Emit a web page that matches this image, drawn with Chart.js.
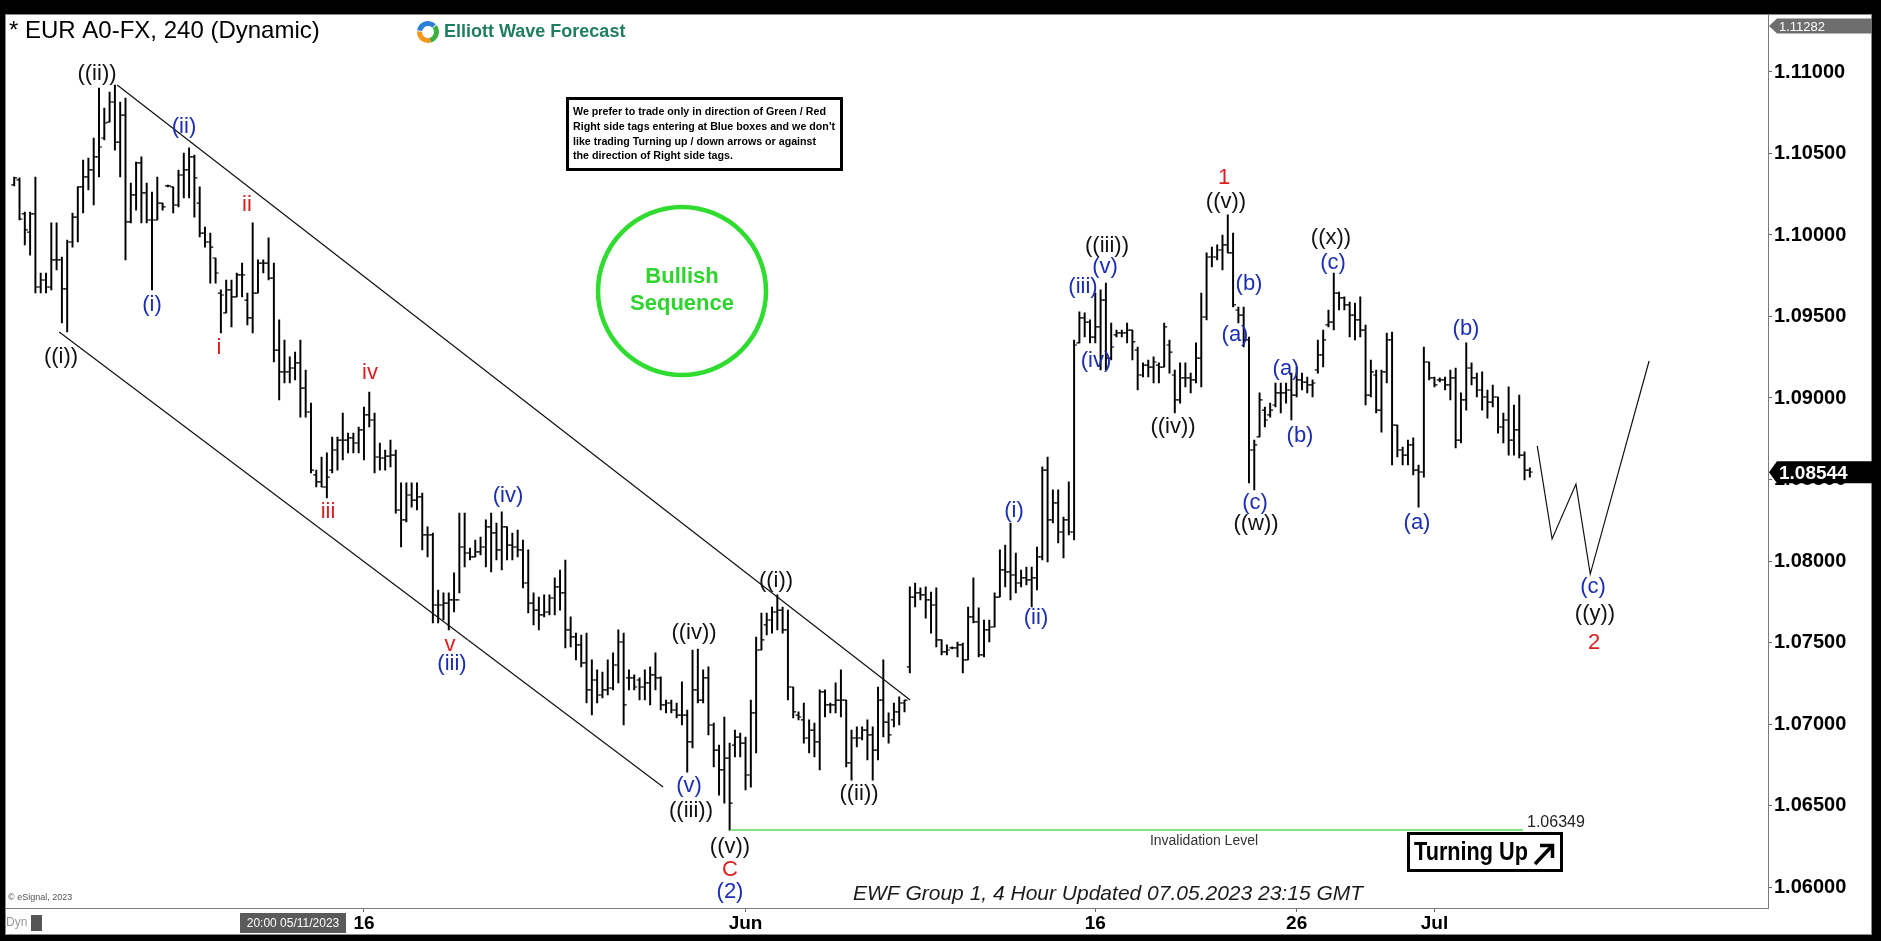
<!DOCTYPE html>
<html><head><meta charset="utf-8">
<script src="https://cdn.jsdelivr.net/npm/chart.js@4.4.1/dist/chart.umd.min.js"></script>
<style>html,body{margin:0;padding:0;background:#000;overflow:hidden}canvas{display:block}</style>
</head><body>
<canvas id="c" width="1881" height="941" style="width:1881px;height:941px"></canvas>
<script>
// ---- data (EUR 4-hour bars) ----
const opens = [
1.10307,1.10338,1.10129,1.10018,1.10129,1.09681,1.09724,1.09681,1.09847,1.09847,
1.09669,1.09957,1.10110,1.10295,1.10356,1.10399,1.10479,1.10595,1.10693,1.10816,
1.10570,1.10736,1.10080,1.10246,1.10442,1.10258,1.10092,1.10092,1.10196,1.10301,
1.10295,1.10184,1.10368,1.10399,1.10479,1.10196,1.10012,1.09957,1.09859,1.09644,
1.09522,1.09663,1.09620,1.09755,1.09601,1.09491,1.09644,1.09828,1.09828,1.09736,
1.09294,1.09160,1.09160,1.09184,1.09215,1.09061,1.08914,1.08528,1.08485,1.08454,
1.08558,1.08681,1.08742,1.08742,1.08755,1.08724,1.08804,1.08896,1.08865,1.08638,
1.08632,1.08644,1.08650,1.08313,1.08252,1.08405,1.08374,1.08393,1.08160,1.08160,
1.07730,1.07730,1.07742,1.07761,1.07761,1.08086,1.08049,1.08025,1.08056,1.08086,
1.08209,1.08172,1.08068,1.08209,1.08098,1.08086,1.08068,1.07865,1.07742,1.07699,
1.07669,1.07687,1.07773,1.07841,1.07804,1.07577,1.07534,1.07485,1.07375,1.07209,
1.07270,1.07178,1.07209,1.07221,1.07362,1.07503,1.07283,1.07283,1.07270,1.07227,
1.07252,1.07301,1.07283,1.07117,1.07129,1.07086,1.07055,1.07055,1.06890,1.07209,
1.07147,1.07283,1.06994,1.06840,1.06718,1.06791,1.06871,1.06920,1.06883,1.06687,
1.07068,1.07454,1.07608,1.07638,1.07687,1.07699,1.07577,1.07227,1.07055,1.07025,
1.06914,1.06963,1.06890,1.07197,1.07117,1.07117,1.07147,1.07147,1.06761,1.06914,
1.06914,1.06963,1.06933,1.06840,1.07147,1.07012,1.07025,1.07074,1.07129,1.07350,
1.07779,1.07804,1.07792,1.07761,1.07730,1.07516,1.07442,1.07467,1.07467,1.07485,
1.07393,1.07657,1.07626,1.07424,1.07577,1.07595,1.07779,1.07945,1.07933,1.07914,
1.07865,1.07896,1.07884,1.07896,1.08025,1.08558,1.08252,1.08356,1.08178,1.08252,
1.08178,1.09338,1.09491,1.09466,1.09374,1.09436,1.09601,1.09245,1.09387,1.09399,
1.09399,1.09417,1.09294,1.09141,1.09202,1.09190,1.09202,1.09190,1.09325,1.09141,
1.08988,1.09123,1.09123,1.09111,1.09245,1.09497,1.09865,1.09865,1.09908,1.09939,
1.09890,1.09540,1.09509,1.09356,1.08681,1.08761,1.08926,1.08896,1.08957,1.09031,
1.09031,1.09049,1.09018,1.09111,1.09098,1.09080,1.09172,1.09264,1.09448,1.09466,
1.09644,1.09614,1.09571,1.09509,1.09479,1.09417,1.09018,1.09141,1.08926,1.09160,
1.09356,1.08834,1.08681,1.08650,1.08712,1.08558,1.08546,1.09221,1.09123,1.09111,
1.09111,1.09080,1.09123,1.08742,1.08988,1.09184,1.09123,1.09049,1.09006,1.08975,
1.09006,1.08822,1.08865,1.08742,1.08804,1.08650,1.08558];
const highs = [
1.10356,1.10350,1.10141,1.10141,1.10356,1.09767,1.09767,1.10074,1.10074,1.09865,
1.09969,1.10135,1.10295,1.10460,1.10472,1.10595,1.10902,1.10779,1.10877,1.10920,
1.10816,1.10840,1.10319,1.10448,1.10479,1.10319,1.10264,1.10356,1.10196,1.10307,
1.10295,1.10399,1.10503,1.10534,1.10491,1.10295,1.10049,1.10012,1.09859,1.09663,
1.09724,1.09724,1.09767,1.09828,1.09644,1.10074,1.09847,1.09847,1.09982,1.09828,
1.09479,1.09356,1.09252,1.09282,1.09356,1.09172,1.08969,1.08558,1.08638,1.08663,
1.08761,1.08761,1.08908,1.08785,1.08785,1.08822,1.08945,1.09037,1.08908,1.08724,
1.08681,1.08742,1.08681,1.08479,1.08479,1.08479,1.08479,1.08417,1.08209,1.08172,
1.07822,1.07804,1.07804,1.07927,1.08294,1.08294,1.08080,1.08129,1.08147,1.08252,
1.08294,1.08233,1.08301,1.08209,1.08172,1.08190,1.08129,1.08068,1.07804,1.07779,
1.07792,1.07792,1.07896,1.07945,1.08006,1.07657,1.07558,1.07546,1.07558,1.07393,
1.07332,1.07319,1.07393,1.07436,1.07577,1.07558,1.07332,1.07301,1.07283,1.07332,
1.07350,1.07436,1.07289,1.07147,1.07147,1.07129,1.07258,1.07086,1.07454,1.07460,
1.07332,1.07350,1.07006,1.06871,1.07043,1.06883,1.06963,1.06945,1.06920,1.07147,
1.07534,1.07681,1.07681,1.07718,1.07792,1.07718,1.07699,1.07227,1.07074,1.07129,
1.07025,1.07006,1.07209,1.07209,1.07129,1.07252,1.07332,1.07147,1.06963,1.06982,
1.06982,1.07025,1.06982,1.07227,1.07393,1.07068,1.07129,1.07166,1.07147,1.07841,
1.07865,1.07835,1.07841,1.07810,1.07835,1.07516,1.07485,1.07473,1.07503,1.07497,
1.07718,1.07896,1.07712,1.07638,1.07638,1.07804,1.08068,1.08098,1.08233,1.08049,
1.07945,1.07963,1.07963,1.08086,1.08577,1.08638,1.08436,1.08436,1.08270,1.08485,
1.09356,1.09528,1.09522,1.09479,1.09644,1.09663,1.09705,1.09460,1.09417,1.09417,
1.09460,1.09417,1.09313,1.09215,1.09233,1.09252,1.09215,1.09460,1.09356,1.09172,
1.09215,1.09215,1.09153,1.09338,1.09644,1.09890,1.09926,1.09939,1.10000,1.10123,
1.10012,1.09558,1.09558,1.09374,1.08742,1.09031,1.08945,1.08969,1.09092,1.09092,
1.09092,1.09153,1.09190,1.09153,1.09129,1.09111,1.09356,1.09417,1.09540,1.09767,
1.09650,1.09620,1.09589,1.09583,1.09620,1.09448,1.09233,1.09172,1.09172,1.09399,
1.09405,1.08834,1.08699,1.08742,1.08755,1.08589,1.09313,1.09221,1.09129,1.09123,
1.09129,1.09172,1.09184,1.09031,1.09338,1.09215,1.09153,1.09160,1.09049,1.09080,
1.09006,1.08908,1.09068,1.08957,1.09018,1.08669,1.08571];
const lows = [
1.10301,1.10092,1.09939,1.09877,1.09644,1.09644,1.09644,1.09663,1.09785,1.09460,
1.09405,1.09926,1.09957,1.10135,1.10276,1.10184,1.10356,1.10583,1.10693,1.10521,
1.10356,1.09847,1.10074,1.10153,1.10074,1.10074,1.09663,1.10092,1.10153,1.10295,
1.10135,1.10172,1.10227,1.10227,1.10110,1.09988,1.09926,1.09705,1.09705,1.09399,
1.09522,1.09436,1.09620,1.09620,1.09448,1.09399,1.09644,1.09767,1.09724,1.09221,
1.08988,1.09092,1.09092,1.09111,1.08883,1.08883,1.08540,1.08454,1.08454,1.08387,
1.08540,1.08558,1.08620,1.08663,1.08663,1.08663,1.08620,1.08822,1.08540,1.08558,
1.08558,1.08577,1.08294,1.08086,1.08239,1.08331,1.08313,1.08068,1.08025,1.07620,
1.07620,1.07638,1.07577,1.07687,1.07804,1.07963,1.08006,1.08025,1.08037,1.07963,
1.07933,1.08006,1.07945,1.08006,1.08006,1.08025,1.07835,1.07681,1.07608,1.07577,
1.07657,1.07669,1.07669,1.07699,1.07467,1.07473,1.07393,1.07350,1.07129,1.07055,
1.07129,1.07160,1.07178,1.07209,1.07252,1.06994,1.07209,1.07209,1.07147,1.07147,
1.07117,1.07209,1.07086,1.07068,1.07068,1.07037,1.06994,1.06705,1.06853,1.07129,
1.07129,1.06933,1.06736,1.06564,1.06515,1.06349,1.06798,1.06798,1.06595,1.06613,
1.06822,1.07454,1.07546,1.07558,1.07577,1.07558,1.07147,1.07037,1.07025,1.06883,
1.06822,1.06798,1.06718,1.07043,1.07068,1.07068,1.07043,1.06736,1.06656,1.06859,
1.06902,1.06779,1.06656,1.06779,1.06920,1.06883,1.06982,1.06994,1.07074,1.07313,
1.07718,1.07761,1.07650,1.07558,1.07473,1.07424,1.07424,1.07460,1.07411,1.07313,
1.07393,1.07620,1.07411,1.07411,1.07503,1.07595,1.07779,1.07841,1.07761,1.07804,
1.07841,1.07853,1.07718,1.07822,1.08006,1.07994,1.08233,1.08111,1.08019,1.08160,
1.08129,1.09338,1.09374,1.09338,1.09338,1.09172,1.09172,1.09233,1.09374,1.09374,
1.09338,1.09233,1.09049,1.09129,1.09129,1.09092,1.09092,1.09190,1.09153,1.08908,
1.08969,1.09068,1.09031,1.09092,1.09068,1.09479,1.09804,1.09847,1.09785,1.09890,
1.09558,1.09460,1.09313,1.08479,1.08436,1.08761,1.08822,1.08883,1.08945,1.08908,
1.08969,1.08865,1.09006,1.09049,1.09031,1.09006,1.09153,1.09190,1.09436,1.09417,
1.09540,1.09540,1.09374,1.09356,1.09374,1.08957,1.09006,1.08908,1.08791,1.09092,
1.08589,1.08638,1.08589,1.08589,1.08528,1.08331,1.08515,1.09111,1.09068,1.09098,
1.09049,1.08988,1.08693,1.08724,1.08926,1.09080,1.09006,1.08926,1.08877,1.08945,
1.08785,1.08724,1.08650,1.08650,1.08632,1.08497,1.08515];
const closes = [
1.10350,1.10098,1.10031,1.10129,1.09681,1.09724,1.09681,1.09847,1.09847,1.09669,
1.09957,1.10110,1.10295,1.10356,1.10399,1.10479,1.10540,1.10687,1.10816,1.10570,
1.10736,1.10080,1.10246,1.10442,1.10258,1.10092,1.10092,1.10196,1.10172,1.10301,
1.10184,1.10368,1.10399,1.10479,1.10350,1.10012,1.09957,1.09926,1.09767,1.09632,
1.09663,1.09620,1.09755,1.09755,1.09491,1.09644,1.09828,1.09828,1.09736,1.09294,
1.09160,1.09160,1.09184,1.09215,1.09061,1.08914,1.08558,1.08485,1.08454,1.08515,
1.08681,1.08742,1.08742,1.08755,1.08724,1.08804,1.08896,1.08865,1.08638,1.08632,
1.08644,1.08650,1.08313,1.08252,1.08405,1.08374,1.08393,1.08160,1.08160,1.07730,
1.07730,1.07742,1.07761,1.07761,1.08086,1.08049,1.08025,1.08056,1.08086,1.08209,
1.08172,1.08068,1.08209,1.08098,1.08086,1.08068,1.07865,1.07742,1.07699,1.07669,
1.07687,1.07773,1.07841,1.07804,1.07577,1.07534,1.07485,1.07375,1.07209,1.07270,
1.07178,1.07209,1.07221,1.07362,1.07503,1.07117,1.07283,1.07227,1.07227,1.07252,
1.07301,1.07283,1.07117,1.07129,1.07086,1.07055,1.07055,1.06890,1.07209,1.07147,
1.07283,1.06994,1.06840,1.06718,1.06791,1.06515,1.06920,1.06883,1.06687,1.07068,
1.07454,1.07516,1.07638,1.07687,1.07699,1.07577,1.07227,1.07074,1.07043,1.06914,
1.06963,1.06890,1.07197,1.07117,1.07117,1.07147,1.07147,1.06761,1.06914,1.06914,
1.06963,1.06933,1.06840,1.07147,1.07012,1.06933,1.07074,1.07129,1.07147,1.07779,
1.07804,1.07792,1.07761,1.07730,1.07516,1.07442,1.07454,1.07467,1.07485,1.07393,
1.07657,1.07626,1.07424,1.07577,1.07595,1.07779,1.07945,1.07933,1.07914,1.07865,
1.07896,1.07884,1.07896,1.08025,1.08558,1.08252,1.08356,1.08178,1.08252,1.08178,
1.09325,1.09491,1.09466,1.09374,1.09436,1.09601,1.09245,1.09313,1.09399,1.09399,
1.09417,1.09344,1.09141,1.09202,1.09190,1.09221,1.09190,1.09436,1.09282,1.08988,
1.09123,1.09123,1.09111,1.09245,1.09497,1.09865,1.09865,1.09908,1.09939,1.09890,
1.09571,1.09509,1.09356,1.08681,1.08712,1.08988,1.08865,1.08926,1.09031,1.09031,
1.09049,1.09018,1.09111,1.09098,1.09080,1.09092,1.09264,1.09356,1.09466,1.09644,
1.09614,1.09571,1.09509,1.09479,1.09417,1.09018,1.09160,1.08926,1.09160,1.09356,
1.08834,1.08681,1.08650,1.08712,1.08558,1.08546,1.09221,1.09123,1.09080,1.09111,
1.09080,1.09123,1.08742,1.08988,1.09184,1.09123,1.09049,1.09006,1.08975,1.09006,
1.08822,1.08865,1.08742,1.08804,1.08650,1.08558,1.08546];

// axis ticks
const xTickIdx  = [66, 138, 204, 242, 268];
const xTickText = ['16', 'Jun', '16', '26', 'Jul'];
const yTicks = [1.060, 1.065, 1.070, 1.075, 1.080, 1.085, 1.090, 1.095, 1.100, 1.105, 1.110];

// reference prices
const lastPrice = 1.08544;
const topPrice = 1.11282;
const invalidationPrice = 1.06349;

// drawn lines (bar index, price)
const upperChannel = [{x:19.43, y:1.10920}, {x:169.06, y:1.07147}];
const lowerChannel = [{x:8.49, y:1.09405}, {x:122.45, y:1.06613}];
const invalidationLine = [{x:135.1, y:invalidationPrice}, {x:284.7, y:invalidationPrice}];
const projection = [{x:287.4, y:1.08706}, {x:290.2, y:1.08135}, {x:294.7, y:1.08472}, {x:297.4, y:1.07920}, {x:308.5, y:1.09227}];

// wave labels (text, colour key, pixel centre)
const waveLabels = [
 ['((ii))','k',97,74],['((i))','k',61,357],['((iv))','k',694,633],['((iii))','k',691,811],['((v))','k',730,847],
 ['((i))','k',776,581],['((ii))','k',859,794],['((iii))','k',1107,246],['((iv))','k',1173,427],['((v))','k',1226,202],
 ['((w))','k',1256,524],['((x))','k',1331,238],['((y))','k',1595,614],
 ['(ii)','b',184,127],['(i)','b',152,305],['(iii)','b',452,664],['(iv)','b',508,496],['(v)','b',689,786],['(2)','b',730,892],
 ['(i)','b',1014,511],['(ii)','b',1036,618],['(iii)','b',1083,287],['(v)','b',1105,267],['(iv)','b',1096,361],
 ['(b)','b',1249,284],['(a)','b',1235,335],['(c)','b',1255,503],['(a)','b',1286,369],['(b)','b',1300,436],['(c)','b',1333,263],
 ['(b)','b',1466,329],['(a)','b',1417,523],['(c)','b',1593,587],
 ['ii','r',247,205],['i','r',219,348],['iv','r',370,373],['iii','r',328,512],['v','r',450,645],['C','r',730,870],['1','r',1224,178],['2','r',1594,643]
];

const F = "'Liberation Sans', Arial, sans-serif";
const COL = {k:'#111111', b:'#1b2db3', r:'#dc1e1e'};

const barData = highs.map((h, i) => ({x: i, y: [lows[i], h]}));
const openTicks = opens.map((v, i) => ({x: i - 0.28, y: v}));
const closeTicks = closes.map((v, i) => ({x: i + 0.28, y: v}));

function tag(c, y, txt, bg, font, h) {
  const x0 = 1769, x1 = 1777, x2 = 1872;
  c.fillStyle = bg;
  c.beginPath(); c.moveTo(x0, y); c.lineTo(x1, y - h/2); c.lineTo(x2, y - h/2); c.lineTo(x2, y + h/2); c.lineTo(x1, y + h/2); c.closePath(); c.fill();
  c.fillStyle = '#fff'; c.font = font; c.textAlign = 'left'; c.textBaseline = 'middle';
  c.fillText(txt, 1779, y + 1);
}

const deco = {
  id: 'deco',
  beforeDraw(chart) {
    const c = chart.ctx;
    c.save();
    c.fillStyle = '#000'; c.fillRect(0, 0, chart.width, chart.height);
    c.fillStyle = '#fff'; c.fillRect(5, 14, 1867, 921);
    c.strokeStyle = '#8a8a8a'; c.lineWidth = 1; c.strokeRect(5.5, 14.5, 1866, 920);
    c.restore();
  },
  afterDraw(chart) {
    const c = chart.ctx, ys = chart.scales.y;
    c.save();
    // title
    c.fillStyle = '#000'; c.font = '24px ' + F; c.textAlign = 'left'; c.textBaseline = 'middle';
    c.fillText('* EUR A0-FX, 240 (Dynamic)', 9, 31);
    // logo
    c.lineWidth = 5;
    [['#2b7fd6', 3.3, 5.5], ['#3cb043', 5.6, 7.6], ['#f39a1e', 1.3, 3.2]].forEach(a => {
      c.strokeStyle = a[0]; c.beginPath(); c.arc(428, 32, 8.5, a[1], a[2]); c.stroke();
    });
    c.fillStyle = '#1f7f5c'; c.font = 'bold 18px ' + F; c.fillText('Elliott Wave Forecast', 444, 32);
    // info box
    c.fillStyle = '#fff'; c.fillRect(567, 98, 274, 71);
    c.strokeStyle = '#000'; c.lineWidth = 3; c.strokeRect(567.5, 98.5, 274, 71);
    c.fillStyle = '#000'; c.font = 'bold 11.5px ' + F;
    const lines = ['We prefer to trade only in direction of Green / Red', "Right side tags entering at Blue boxes and we don't",
                   'like trading Turning up / down arrows or against', 'the direction of Right side tags.'];
    const lw = [253, 262, 243, 160];
    lines.forEach((t, k) => c.fillText(t, 573, 112 + k * 14.7, lw[k]));
    // bullish circle
    c.strokeStyle = '#2fdc2f'; c.lineWidth = 4.5; c.beginPath(); c.arc(682, 291, 84, 0, Math.PI * 2); c.stroke();
    c.fillStyle = '#2fd42f'; c.font = 'bold 22px ' + F; c.textAlign = 'center';
    c.fillText('Bullish', 682, 277); c.fillText('Sequence', 682, 304);
    // wave labels
    c.font = '22px ' + F; c.textAlign = 'center'; c.textBaseline = 'middle';
    waveLabels.forEach(l => { c.fillStyle = COL[l[1]]; c.fillText(l[0], l[2], l[3]); });
    // invalidation texts
    const yi = ys.getPixelForValue(invalidationPrice);
    c.fillStyle = '#333'; c.font = '14px ' + F; c.fillText('Invalidation Level', 1204, yi + 11);
    c.fillStyle = '#222'; c.font = '16px ' + F; c.textAlign = 'left'; c.fillText(invalidationPrice.toFixed(5), 1527, yi - 8);
    // turning up box
    c.fillStyle = '#fff'; c.fillRect(1408, 833, 153, 37);
    c.strokeStyle = '#000'; c.lineWidth = 3; c.strokeRect(1408.5, 833.5, 153, 37);
    c.fillStyle = '#000'; c.font = 'bold 25px ' + F; c.textAlign = 'left';
    c.fillText('Turning Up', 1414, 853, 114);
    c.lineWidth = 3.5; c.beginPath(); c.moveTo(1535, 864); c.lineTo(1552, 846); c.stroke();
    c.beginPath(); c.moveTo(1540, 845.5); c.lineTo(1552.5, 845.5); c.lineTo(1552.5, 858); c.stroke();
    // footer texts
    c.fillStyle = '#1a1a1a'; c.font = 'italic 21px ' + F; c.textAlign = 'center';
    c.fillText('EWF Group 1, 4 Hour Updated 07.05.2023 23:15 GMT', 1108, 894, 536);
    c.fillStyle = '#555'; c.font = '9px ' + F; c.textAlign = 'left'; c.fillText('\u00A9 eSignal, 2023', 8, 898);
    c.fillStyle = '#999'; c.font = '12px ' + F; c.fillText('Dyn', 6, 923);
    c.fillStyle = '#555'; c.fillRect(31, 915, 11, 16);
    c.fillStyle = '#5a5a5a'; c.fillRect(240, 913, 106, 20);
    c.fillStyle = '#fff'; c.font = '12px ' + F; c.textAlign = 'center'; c.fillText('20:00 05/11/2023', 293, 923.5, 102);
    // price tags on the axis
    tag(c, ys.getPixelForValue(topPrice), topPrice.toFixed(5), '#6e6e6e', '13px ' + F, 15);
    tag(c, ys.getPixelForValue(lastPrice), lastPrice.toFixed(5), '#000', 'bold 19px ' + F, 22);
    c.restore();
  }
};

new Chart(document.getElementById('c'), {
  type: 'bar',
  data: {
    datasets: [
      {type: 'line', data: upperChannel, borderColor: '#111', borderWidth: 1.2, pointRadius: 0, fill: false},
      {type: 'line', data: lowerChannel, borderColor: '#111', borderWidth: 1.2, pointRadius: 0, fill: false},
      {type: 'line', data: invalidationLine, borderColor: '#5ad85a', borderWidth: 1.5, pointRadius: 0, fill: false},
      {type: 'line', data: projection, borderColor: '#111', borderWidth: 1.2, pointRadius: 0, fill: false, tension: 0},
      {type: 'scatter', data: openTicks, pointStyle: 'line', pointRadius: 1.5, pointBorderWidth: 1.2, pointBorderColor: '#000', pointBackgroundColor: '#000'},
      {type: 'scatter', data: closeTicks, pointStyle: 'line', pointRadius: 1.5, pointBorderWidth: 1.2, pointBorderColor: '#000', pointBackgroundColor: '#000'},
      {type: 'bar', data: barData, backgroundColor: '#000', borderWidth: 0, barThickness: 1.3}
    ]
  },
  options: {
    responsive: false, animation: false, devicePixelRatio: 1, events: [],
    layout: {padding: {left: 5, top: 14, right: 9, bottom: 6}},
    plugins: {legend: {display: false}, tooltip: {enabled: false}},
    scales: {
      x: {
        type: 'linear', min: -1.7, max: 330.94, position: 'bottom', offset: false,
        afterBuildTicks: s => { s.ticks = xTickIdx.map(v => ({value: v})); },
        afterFit: s => { s.height = 27; },
        ticks: {autoSkip: false, maxRotation: 0, padding: 0, color: '#000', font: {family: F, size: 19, weight: 'bold'},
                callback: v => { const k = xTickIdx.indexOf(v); return k >= 0 ? xTickText[k] : ''; }},
        grid: {offset: false, drawOnChartArea: false, drawTicks: true, tickLength: 4, color: '#666'},
        border: {display: true, color: '#7a7a7a', width: 1}
      },
      y: {
        type: 'linear', min: 1.058712, max: 1.113558, position: 'right',
        afterBuildTicks: s => { s.ticks = yTicks.map(v => ({value: v})); },
        afterFit: s => { s.width = 104; },
        ticks: {padding: 2, color: '#000', font: {family: F, size: 20, weight: 'bold'}, callback: v => Number(v).toFixed(5)},
        grid: {drawOnChartArea: false, drawTicks: true, tickLength: 4, color: '#666'},
        border: {display: true, color: '#7a7a7a', width: 1}
      }
    }
  },
  plugins: [deco]
});
</script>
</body></html>
